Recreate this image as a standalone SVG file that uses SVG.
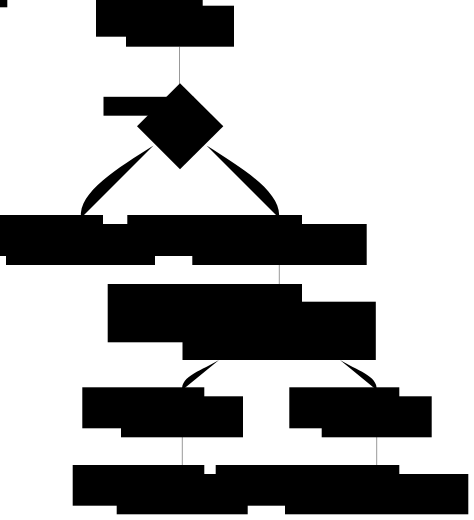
<svg xmlns="http://www.w3.org/2000/svg" width="474" height="520" viewBox="0 0 474 520">
<style>
.blk{fill:#000;stroke:none}
.ln{fill:none;stroke:#999;stroke-width:1}
.cv{fill:#000;stroke:none}
</style>
<rect x="0" y="0" width="474" height="520" fill="#fff"/>
<rect id="corner" x="0" y="0" width="7.3" height="7.3" fill="#000"/>
<g id="connectors">
<line class="ln" x1="179.5" y1="46.7" x2="179.5" y2="84"/>
<path class="cv" d="M153.5,145.5 C118,168 78,192 81,218 Z"/>
<path class="cv" d="M206.5,145.5 C242,168 282,192 279,218 Z"/>
<line class="ln" x1="279.3" y1="265" x2="279.3" y2="284"/>
<path class="cv" d="M219,360 C203,370 180.5,376 182.3,390 Z"/>
<path class="cv" d="M340,360 C356,370 378.4,376 376.6,390 Z"/>
<line class="ln" x1="182.3" y1="437" x2="182.3" y2="465"/>
<line class="ln" x1="376.7" y1="437" x2="376.7" y2="465"/>
</g>
<g id="n-start">
<rect class="blk" x="96" y="-1" width="106.7" height="37.7"/>
<rect class="blk" x="126" y="5.7" width="108" height="41"/>
</g>
<g id="n-decision">
<rect class="blk" x="103.5" y="96.8" width="90" height="18.9"/>
<polygon class="blk" points="180,83.3 223.3,126.3 180,169.3 137,126.3"/>
</g>
<g id="n-left">
<rect class="blk" x="-1" y="215" width="104" height="41"/>
<rect class="blk" x="6" y="224" width="149" height="41"/>
</g>
<g id="n-right">
<rect class="blk" x="127.3" y="215" width="174.7" height="41"/>
<rect class="blk" x="192.3" y="224" width="174.4" height="41"/>
</g>
<g id="n-mid">
<rect class="blk" x="107.7" y="284" width="194.3" height="58.3"/>
<rect class="blk" x="182.5" y="301.7" width="193.3" height="58.3"/>
</g>
<g id="n-d">
<rect class="blk" x="82.3" y="387.3" width="122" height="41"/>
<rect class="blk" x="121" y="396.3" width="122" height="41"/>
</g>
<g id="n-e">
<rect class="blk" x="289.3" y="387.3" width="110" height="41"/>
<rect class="blk" x="321.7" y="396.3" width="110" height="41"/>
</g>
<g id="n-f">
<rect class="blk" x="72.7" y="465" width="131.6" height="40.7"/>
<rect class="blk" x="116.7" y="474" width="131" height="40.3"/>
</g>
<g id="n-g">
<rect class="blk" x="215.7" y="465" width="183.6" height="40.7"/>
<rect class="blk" x="285" y="474" width="183.3" height="40.3"/>
</g>
</svg>
